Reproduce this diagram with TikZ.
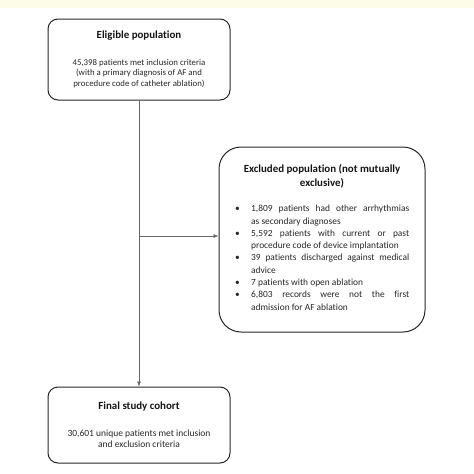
\documentclass[tikz,border=0pt]{standalone}
\usepackage{fontspec}
\setmainfont{Carlito}[Ligatures={NoCommon}]
\usetikzlibrary{arrows.meta}
\definecolor{band}{HTML}{FDFCE8}
\definecolor{txt}{HTML}{262626}
\begin{document}
\begin{tikzpicture}[x=1pt,y=-1pt,
  box/.style={draw=black!85, line width=1pt, rounded corners=10pt, inner sep=0pt},
  bigbox/.style={draw=black!85, line width=1pt, rounded corners=22pt, inner sep=0pt},
  conn/.style={draw=black!60, line width=0.6pt},
  tip/.style={-{Latex[length=5pt,width=4pt]}},
  ttl/.style={font=\fontsize{10.9}{14}\selectfont\bfseries, text=black!92, inner sep=0pt},
  bodytxt/.style={font=\fontsize{8.8}{10.3}\selectfont, text=txt, inner sep=0pt, align=center}]
\useasboundingbox (0,0) rectangle (474,474);
\fill[band] (0,0) rectangle (474,8);
% Eligible
\node[box, minimum width=182pt, minimum height=81pt] (elig) at (139,59.5) {};
\node[ttl] (eligT) at (139,36) {Eligible population};
\node[bodytxt] (eligB) at (139,73.5) {45,398 patients met inclusion criteria\\(with a primary diagnosis of AF and\\procedure code of catheter ablation)};
% Excluded
\node[bigbox, minimum width=206pt, minimum height=185pt] (excl) at (322,239.5) {};
\node[ttl, align=center] (exclT) at (322,176) {Excluded population (not mutually\\exclusive)};
\node[inner sep=0pt, text width=174pt, align=justify, anchor=north west, text=txt,
      font=\fontsize{9.4}{12.3}\selectfont] (exclB) at (235,205) {%
\hangindent=16pt\hangafter=1\noindent\hbox to 16pt{\textbullet\hfil}1,809 patients had other arrhythmias\linebreak as secondary diagnoses\par
\hangindent=16pt\hangafter=1\noindent\hbox to 16pt{\textbullet\hfil}5,592 patients with current or past\linebreak procedure code of device implantation\par
\hangindent=16pt\hangafter=1\noindent\hbox to 16pt{\textbullet\hfil}39 patients discharged against medical\linebreak advice\par
\hangindent=16pt\hangafter=1\noindent\hbox to 16pt{\textbullet\hfil}7 patients with open ablation\par
\hangindent=16pt\hangafter=1\noindent\hbox to 16pt{\textbullet\hfil}6,803 records were not the first\linebreak admission for AF ablation\par};
% Final
\node[box, minimum width=182pt, minimum height=76pt] (fin) at (139,425) {};
\node[ttl] (finT) at (139,407) {Final study cohort};
\node[bodytxt, font=\fontsize{9.5}{11}\selectfont] (finB) at (139,438.5) {30,601 unique patients met inclusion\\and exclusion criteria};
% connectors
\coordinate (j) at (139,236);
\draw[conn, tip] (elig.south) -- (fin.north);
\draw[conn, tip] (j) -- (j -| excl.west);
\end{tikzpicture}
\end{document}
